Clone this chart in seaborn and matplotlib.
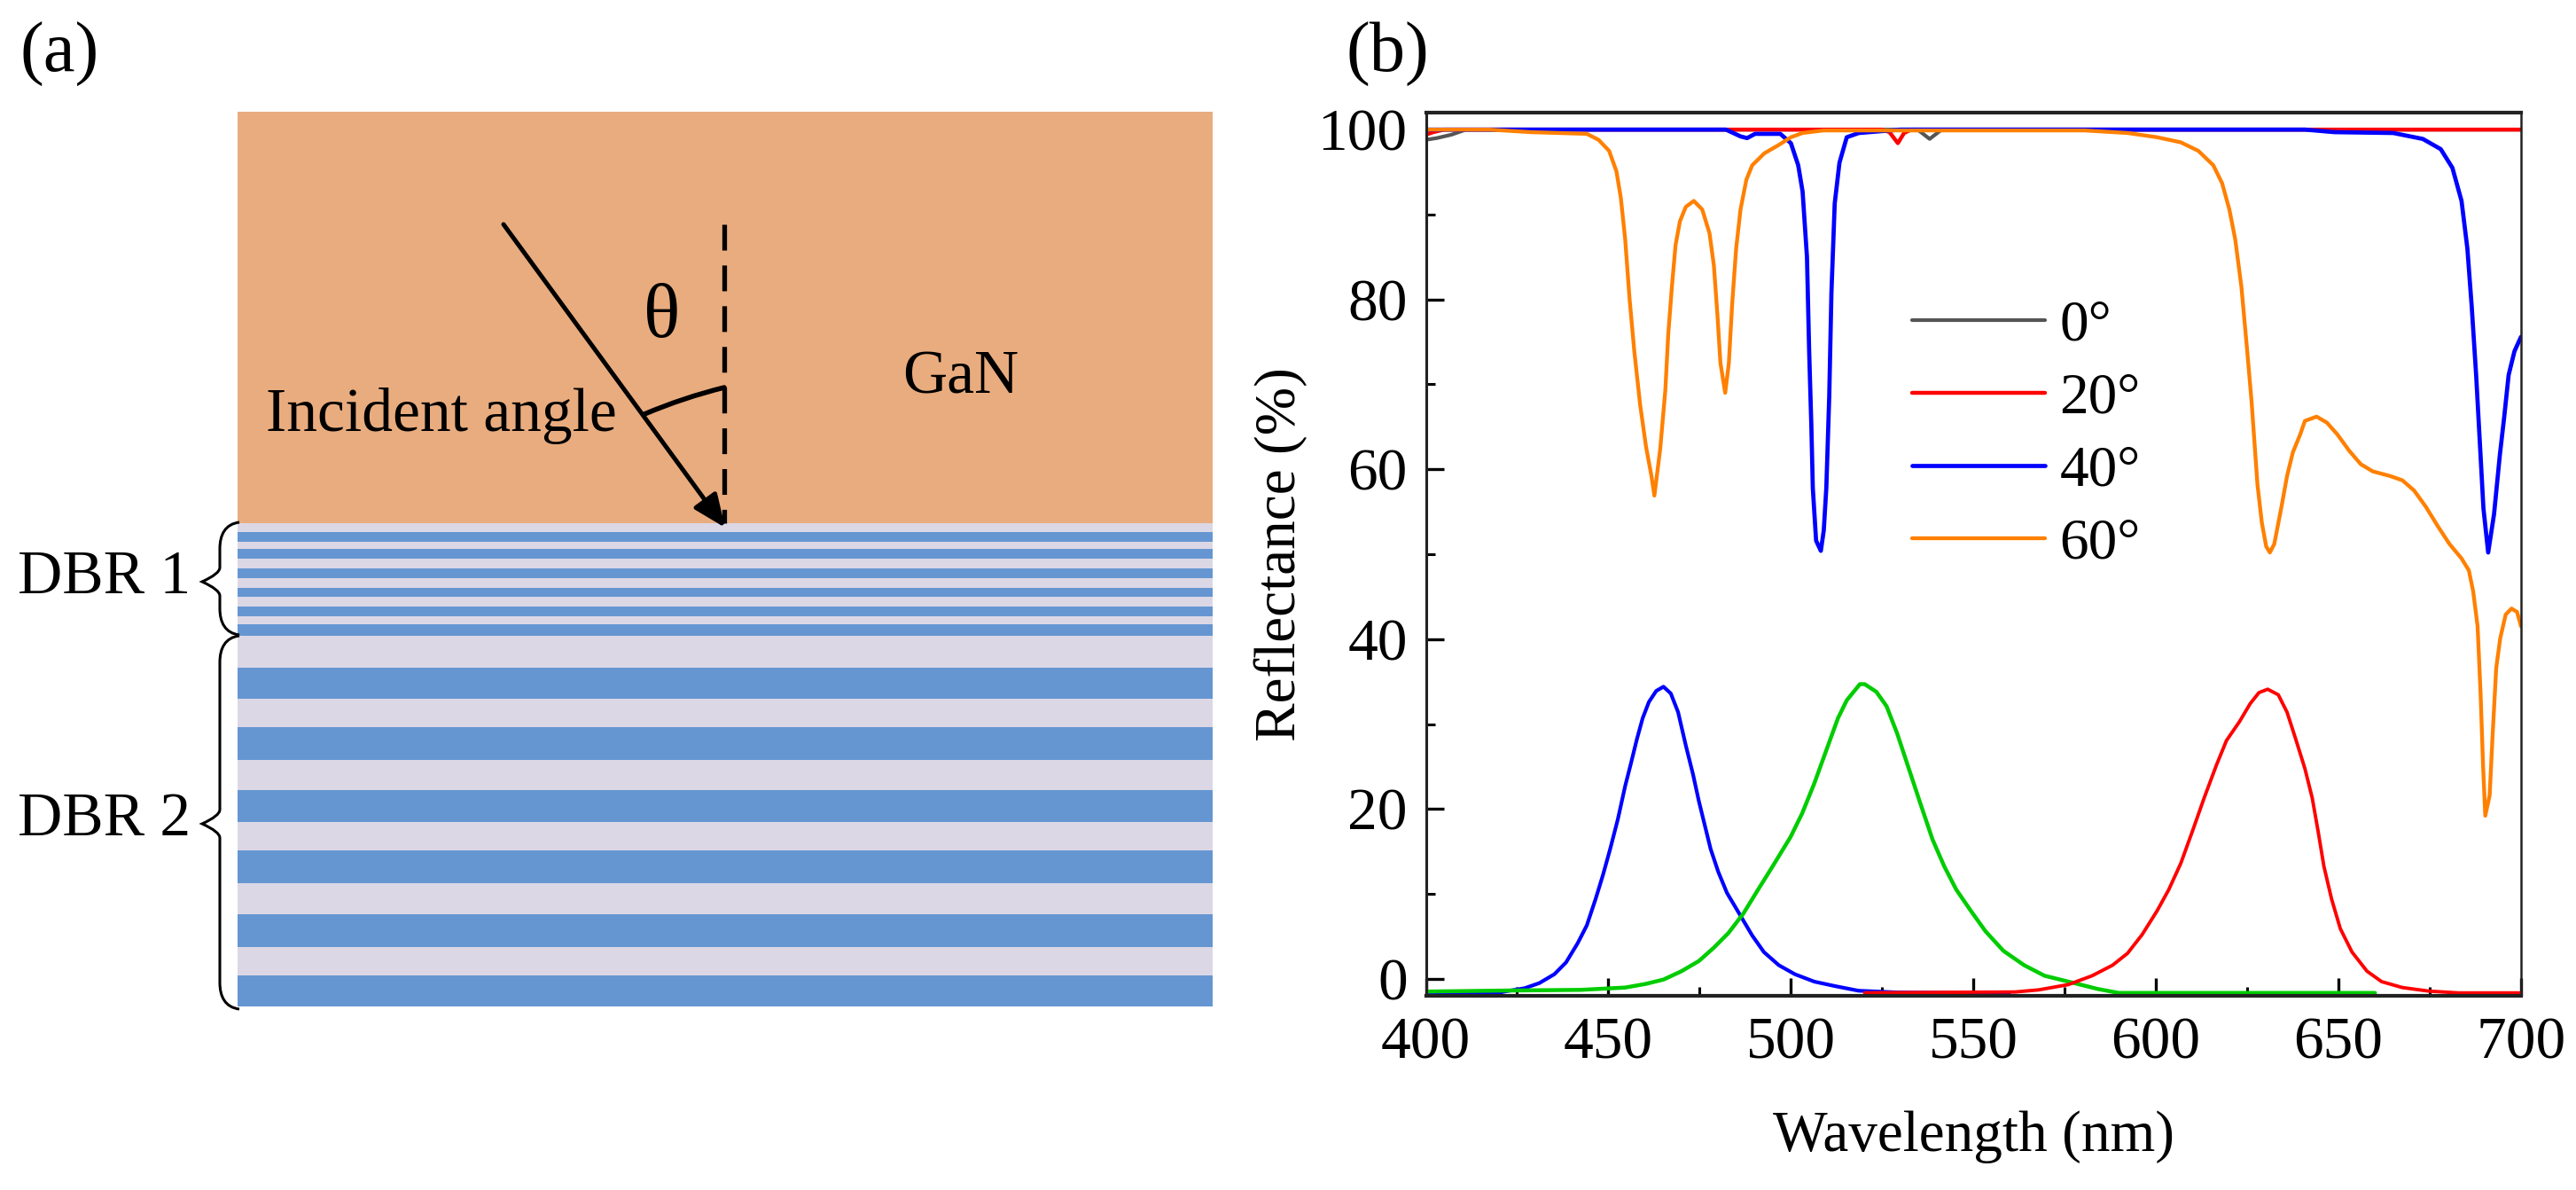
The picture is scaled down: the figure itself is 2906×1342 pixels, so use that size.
import matplotlib
matplotlib.use('Agg')
import matplotlib.pyplot as plt
from matplotlib.path import Path
from matplotlib.patches import PathPatch, FancyArrowPatch
from matplotlib.ticker import MultipleLocator
import seaborn as sns

# reflectance curves
wl_0 = [400, 403, 407, 411, 425, 532, 535, 538, 541, 544, 700]
r_0 = [98.8, 99.0, 99.4, 100, 100, 100, 99.9, 98.9, 99.9, 100, 100]

wl_20 = [400, 402, 405, 525, 527, 529.3, 531, 533, 700]
r_20 = [99.4, 99.7, 100, 100, 99.7, 98.4, 99.6, 100, 100]

wl_40 = [400, 482.2, 486.2, 488, 490.2, 497.1, 500, 502, 503.2, 504.4, 505, 505.6, 506, 506.9, 508.2, 509,
         509.7, 510.5, 511.1, 512, 513.3, 515.3, 518.6, 530, 640.8, 648.9, 665, 673.1, 678, 681.2, 683.7,
         685.3, 686.5, 687.7, 688.9, 689.7, 691, 692.6, 694.2, 695.4, 696.6, 698.2, 700]
r_40 = [100, 100, 99.2, 99, 99.5, 99.5, 98.4, 95.8, 92.7, 85, 73.9, 65.1, 57.8, 51.6, 50.4, 52.8,
        57.8, 68.6, 80.8, 91.3, 96.1, 99.1, 99.6, 100, 100, 99.7, 99.6, 98.9, 97.7, 95.5, 91.6,
        86, 79.1, 71.1, 61.7, 55.4, 50.2, 54.7, 61.7, 66.2, 71.1, 73.9, 75.6]

wl_60 = [400, 417.4, 428.7, 444.1, 447.3, 450.2, 452.2, 453.4, 454.6, 455.8, 457.1, 458.7, 460.3, 461.8,
         462.6, 464.2, 465.6, 466.4, 467.4, 468.4, 469.6, 471.2, 473.4, 475.7, 477.7, 478.9, 479.9, 480.7,
         482, 483, 483.9, 485, 486.2, 487.8, 489.4, 492.7, 496.7, 500, 503.2, 508.9, 580.5, 592.2, 600.3,
         606.8, 611.6, 615.7, 618.1, 620.1, 621.7, 623.4, 625, 626.2, 627.8, 629, 630.2, 631.2, 632.4,
         634.3, 635.9, 637.5, 639.5, 640.8, 644, 646.8, 649.7, 652.9, 656.1, 659.4, 664.2, 667.5, 670.7,
         673.9, 677.2, 680.4, 683.7, 685.7, 686.9, 688.1, 688.9, 689.6, 690.2, 691.4, 692.2, 693.2, 694.3,
         695.8, 697.4, 698.9, 700]
r_60 = [100, 100, 99.7, 99.5, 98.8, 97.5, 95.1, 92, 87.1, 80.1, 73.9, 67.6, 62.7, 59.2,
        56.9, 62.4, 69.3, 75.9, 81.5, 86.4, 89.2, 90.9, 91.6, 90.6, 87.8, 84, 78, 72.5,
        69, 72.5, 79.4, 86, 90.6, 94.1, 95.8, 97.2, 98.2, 99.1, 99.6, 99.9, 99.9, 99.6, 99.1,
        98.5, 97.5, 95.8, 93.7, 90.6, 87.1, 81.5, 73.9, 67.9, 58.2, 53.7, 50.9, 50.2, 51.2,
        55.4, 59.2, 62, 64.1, 65.7, 66.2, 65.5, 64.1, 62.2, 60.6, 59.75, 59.2, 58.7, 57.5,
        55.6, 53.3, 51.2, 49.5, 48.1, 45.6, 41.5, 33.8, 25.1, 19.2, 21.6, 28.6, 36.6, 40.1,
        42.9, 43.6, 43.2, 41.5]

# emission spectra
wl_blue = [400, 420.5, 422.2, 427.1, 431.1, 435.2, 438.4, 441.6, 444.1, 446.5, 448.5, 450.5, 452.6, 454.6,
           456.2, 457.8, 459.4, 461.1, 463.1, 465.1, 467.1, 469.1, 471.2, 473.2, 474.8, 476.4, 478, 480.1,
           482.5, 486.1, 489.4, 492.6, 496.7, 501.1, 506.4, 512, 518.5, 529.1, 559.8]
em_blue = [-1.8, -1.6, -1.45, -1.1, -0.5, 0.54, 1.93, 4.2, 6.3, 9.4, 12.2, 15.3, 18.8, 22.7,
           25.4, 28.2, 30.7, 32.6, 33.9, 34.4, 33.6, 31.4, 27.5, 24.05, 20.9, 18.1, 15.3, 12.6,
           10.1, 7.5, 5.1, 3.15, 1.6, 0.54, -0.33, -0.85, -1.4, -1.6, -1.7]

wl_green = [400, 422.2, 442.4, 454.6, 460.2, 465.1, 470, 474.8, 478.9, 482.9, 487, 491, 495, 499.9,
            503.1, 506.4, 509.6, 512.9, 515.3, 518.9, 520.2, 523.4, 526.2, 529.1, 532.3, 535.5, 538.8, 542,
            545.3, 549.3, 553.3, 558.2, 563.9, 569.5, 576, 584.1, 589.8, 660]
em_green = [-1.5, -1.38, -1.3, -1.03, -0.6, -0.09, 0.89, 2.1, 3.67, 5.4, 7.7, 10.5, 13.25, 16.7,
            19.5, 23, 26.8, 30.7, 32.8, 34.7, 34.7, 33.8, 32.1, 28.9, 24.75, 20.6, 16.4, 13.25,
            10.5, 8, 5.6, 3.3, 1.6, 0.36, -0.33, -1.2, -1.66, -1.66]

wl_red = [520.2, 561.4, 567.9, 576, 582.5, 588.1, 592.2, 596.2, 600.3, 603.5, 606.8, 610, 613.2, 616.5,
          619.3, 622.9, 625.8, 628.2, 630.6, 633.5, 635.9, 638.3, 640.8, 642.8, 644.4, 646, 648.1, 650.5,
          653.7, 657.8, 661.8, 667.5, 674.8, 682.9, 700]
em_red = [-1.65, -1.55, -1.3, -0.68, 0.36, 1.6, 3, 5.2, 8, 10.5, 13.6, 17.4, 21.3, 25.1,
          28.05, 30.3, 32.4, 33.7, 34.1, 33.45, 31.4, 28.2, 24.75, 21.3, 17.4, 13.25, 9.4, 5.9,
          3.15, 0.9, -0.33, -1.03, -1.45, -1.66, -1.66]

# layer stack of panel (a), edges in image rows
layer_edges = [589.5, 600.2, 610.9, 619.3, 630, 641.1, 651.8, 662.6, 673.3, 684.4, 695.1, 703.5, 716.9,
               752.5, 787.7, 820.2, 856.6, 891, 927.4, 959.2, 996.3, 1030.7, 1067.8, 1100.4, 1135.2]

sns.set_theme(style='ticks')
plt.rcParams['font.family'] = ['Liberation Serif', 'DejaVu Serif']

W, H = 2906, 1342
fig = plt.figure(figsize=(W / 100, H / 100), dpi=100, facecolor='white')

# panel (a) is a schematic, drawn in image pixels
ax_a = fig.add_axes([0, 0, 1, 1])
ax_a.set_xlim(0, W)
ax_a.set_ylim(H, 0)
ax_a.axis('off')
ax_a.barh(126, 1100, height=463.5, left=268, align='edge', color='#E9AC7E', linewidth=0)
for i in range(len(layer_edges) - 1):
    col = '#DCD7E5' if i % 2 == 0 else '#6596D2'
    ax_a.barh(layer_edges[i], 1100, height=layer_edges[i + 1] - layer_edges[i], left=268,
              align='edge', color=col, linewidth=0)

ax_a.plot([817, 817], [253, 590], color='black', lw=3.8, dashes=(5.5, 3.2), dash_capstyle='butt')
ax_a.add_patch(FancyArrowPatch((568, 253), (818, 595), arrowstyle='-|>,head_length=0.75,head_width=0.32',
                               mutation_scale=30, color='black', lw=3.6, shrinkA=0, shrinkB=0))
ax_a.add_patch(FancyArrowPatch((727, 467), (817, 437), arrowstyle='-', connectionstyle='arc3,rad=-0.04',
                               color='black', lw=4, shrinkA=0, shrinkB=0))


def brace(y0, y1, ym):
    verts = [(270, y0), (254, y0 + 2), (248, y0 + 14), (248, y0 + 30),
             (248, ym - 16), (248, ym - 9), (228, ym),
             (248, ym + 9), (248, ym + 16), (248, y1 - 30),
             (248, y1 - 14), (254, y1 - 2), (270, y1)]
    codes = [Path.MOVETO, Path.CURVE4, Path.CURVE4, Path.CURVE4,
             Path.LINETO, Path.CURVE3, Path.CURVE3,
             Path.CURVE3, Path.CURVE3, Path.LINETO,
             Path.CURVE4, Path.CURVE4, Path.CURVE4]
    ax_a.add_patch(PathPatch(Path(verts, codes), fc='none', ec='black', lw=2.2))


brace(589, 716, 656)
brace(717, 1138, 929)

ax_a.text(20, 652, 'DBR 1', fontsize=50, color='black', va='center', ha='left')
ax_a.text(20, 925, 'DBR 2', fontsize=50, color='black', va='center', ha='left')
ax_a.text(300, 469, 'Incident angle', fontsize=50, color='black', va='center', ha='left')
ax_a.text(1084, 427, 'GaN', fontsize=50, color='black', va='center', ha='center')
ax_a.text(747, 359, 'θ', fontsize=62, color='black', va='center', ha='center')
ax_a.text(22, 61, '(a)', fontsize=58, color='black', va='center', ha='left')
ax_a.text(1519, 61, '(b)', fontsize=58, color='black', va='center', ha='left')

# panel (b)
ax = fig.add_axes([1608.5 / W, 1 - 1123 / H, (2844 - 1608.5) / W, (1123 - 127) / H])
ax.patch.set_alpha(0)
sns.lineplot(x=wl_0, y=r_0, color='#555555', lw=3, label='0°', ax=ax, sort=False, estimator=None)
sns.lineplot(x=wl_20, y=r_20, color='#FF0000', lw=3.2, label='20°', ax=ax, sort=False, estimator=None)
sns.lineplot(x=wl_40, y=r_40, color='#0000FF', lw=3.4, label='40°', ax=ax, sort=False, estimator=None)
sns.lineplot(x=wl_60, y=r_60, color='#FF8000', lw=3.1, label='60°', ax=ax, sort=False, estimator=None)
sns.lineplot(x=wl_blue, y=em_blue, color='#0000FF', lw=3, ax=ax, sort=False, estimator=None)
sns.lineplot(x=wl_green, y=em_green, color='#00CC00', lw=3.2, ax=ax, sort=False, estimator=None)
sns.lineplot(x=wl_red, y=em_red, color='#FF0000', lw=2.8, ax=ax, sort=False, estimator=None)

ax.set_xlim(400, 700)
ax.set_ylim(-2, 102)
ax.xaxis.set_major_locator(MultipleLocator(50))
ax.xaxis.set_minor_locator(MultipleLocator(25))
ax.yaxis.set_major_locator(MultipleLocator(20))
ax.yaxis.set_minor_locator(MultipleLocator(10))
ax.tick_params(which='major', direction='in', length=14.5, width=2.4, labelsize=48.5, color='black', labelcolor='black')
ax.tick_params(which='minor', direction='in', length=7, width=2.2, color='black')
ax.tick_params(axis='x', which='major', pad=17)
ax.tick_params(axis='y', which='major', pad=15)
for name, lw in (('top', 3), ('bottom', 3), ('left', 2.2), ('right', 1.8)):
    ax.spines[name].set_visible(True)
    ax.spines[name].set_linewidth(lw)
    ax.spines[name].set_color('#222222')
ax.set_xlabel('Wavelength (nm)', fontsize=47, color='black', labelpad=32)
ax.set_ylabel('Reflectance (%)', fontsize=47, color='black', labelpad=8)

ax.legend(loc='upper left', bbox_to_anchor=((2155 - 1608.5 + 2) / 1235.5, 1 - (338 - 127) / 996), frameon=False,
          fontsize=47, handlelength=2.3, handletextpad=0.25, labelspacing=0.34, borderpad=0, borderaxespad=0,
          labelcolor='black')

fig.savefig('out.png', dpi=100)
